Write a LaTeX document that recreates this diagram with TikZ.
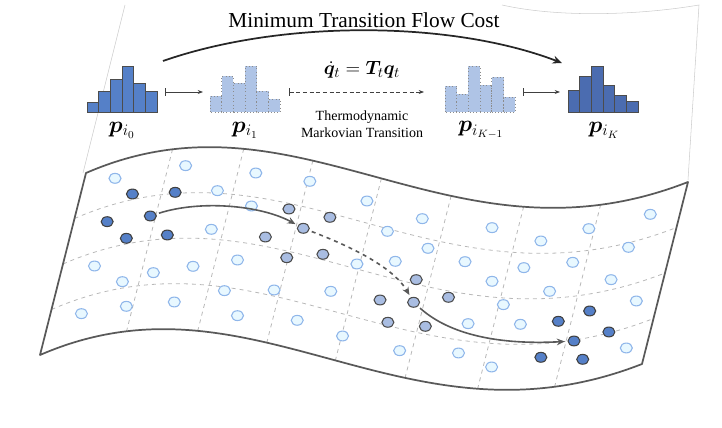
\documentclass[tikz,border=0pt]{standalone}
\usepackage{fontspec}
\setmainfont{Liberation Serif}
\usepackage{amsmath,bm}
\usetikzlibrary{arrows.meta,shapes.geometric}
\definecolor{dblue}{HTML}{5580C8}
\definecolor{ddblue}{HTML}{4B6CB0}
\definecolor{lbar}{HTML}{AFC4E6}
\definecolor{mdot}{HTML}{A9BDE2}
\definecolor{ldotf}{HTML}{E8F8FF}
\definecolor{ldotd}{HTML}{8FB6EA}
\tikzset{
 dbar/.style={fill=dblue,draw=black!70,line width=0.5pt},
 kbar/.style={fill=ddblue,draw=black!70,line width=0.5pt},
 lbarst/.style={fill=lbar,draw=black!45,dotted,line width=0.5pt},
 sheet/.style={draw=black!65,line width=1.3pt},
 gridl/.style={draw=black!28,dashed,line width=0.6pt},
 faint/.style={draw=black!20,line width=0.4pt},
 dotbase/.style={ellipse,minimum width=9pt,minimum height=7.4pt,inner sep=0pt,line width=0.8pt},
 ldot/.style={dotbase,fill=ldotf,draw=ldotd},
 mdotst/.style={dotbase,fill=mdot,draw=black!70},
 ddot/.style={dotbase,fill=dblue,draw=black!75},
 flow/.style={draw=black!65,line width=1.2pt,-{Stealth[length=6pt,width=5pt]},shorten >=2pt,shorten <=2pt},
 maparrow/.style={draw=black!75,line width=0.6pt,{Bar[width=6pt]}-{Stealth[length=4pt]}},
 lab/.style={font=\fontsize{17}{20}\selectfont},
}
\begin{document}
\begin{tikzpicture}[x=0.75pt,y=-0.75pt]
\useasboundingbox (0,0) rectangle (722,428);
% faint background plane
\draw[faint] (125,5) -- (83,173);
\draw[faint] (502,5) .. controls (560,18) and (640,15) .. (699,5) -- (688,180);
% grid
\path (86,173) .. controls (300,80) and (450,275) .. (688,182)
  \foreach \u [count=\k] in {0.14,0.262,0.384,0.506,0.628,0.75,0.872} {coordinate[pos=\u] (g\k)};
\foreach \k in {1,...,7} \draw[gridl] (g\k) -- ++(-46,182);
\foreach \v in {0.25,0.5,0.75}
  \draw[gridl,shift={({-46*\v},{182*\v})}] (86,173) .. controls (300,80) and (450,275) .. (688,182);
% sheet outline
\draw[sheet,line join=round] (86,173) .. controls (300,80) and (450,275) .. (688,182)
  -- (642,364) .. controls (404,457) and (254,262) .. (40,355) -- cycle;
% dots
\begin{scope}[shift={(30,150)},xscale=0.4359,yscale=0.3333]
\foreach \x/\y [count=\i] in {195/85,357/47,518/69,642/94,430/122,508/168,773/153,416/238,900/206,820/244,1060/233,1282/236,1423/193,1172/273,913/295,1373/292,148/348,283/368,374/349,476/330,750/342,838/334,998/335,1133/353,1245/337,212/395,446/422,560/420,690/424,1060/394,1333/389,1192/424,1391/453,118/491,221/469,331/456,476/497,613/511,1086/464,1005/521,1125/523,717/558,848/602,983/609,1059/651,1368/594}
  \node[ldot] (l\i) at (\x,\y) {};
\foreach \x/\y [count=\i] in {235/132,333/127,177/215,276/198,221/265,315/255,1284/483,1212/514,1328/546,1248/573,1172/622,1268/628}
  \node[ddot] (d\i) at (\x,\y) {};
\foreach \x/\y [count=\i] in {594/177,688/202,627/235,540/261,589/323,672/313,886/389,803/450,880/457,960/442,821/517,907/529}
  \node[mdotst] (m\i) at (\x,\y) {};
\end{scope}
\draw[flow] (d4) .. controls (200,200) and (260,205) .. (m3);
\draw[flow,dashed] (m3) .. controls (360,250) and (395,270) .. (m9);
\draw[flow] (m9) .. controls (450,335) and (500,345) .. (d10);
% histograms
\foreach \h [count=\i from 0] in {10,21,33,46,29,21} \draw[dbar] ({87+\i*11.7},112) rectangle ++(11.7,-\h);
\foreach \h [count=\i from 0] in {16,36,29,46,21,13} \draw[lbarst] ({210+\i*11.7},112) rectangle ++(11.7,-\h);
\foreach \h [count=\i from 0] in {26,18,46,27,35,15} \draw[lbarst] ({445+\i*11.7},112) rectangle ++(11.7,-\h);
\foreach \h [count=\i from 0] in {22,36,46,27,17,11} \draw[kbar] ({568+\i*11.7},112) rectangle ++(11.7,-\h);
\node[lab] (p0) at (122,130) {$\bm{p}_{i_0}$};
\node[lab] (p1) at (245,130) {$\bm{p}_{i_1}$};
\node[lab] (pk1) at (481,130) {$\bm{p}_{i_{K-1}}$};
\node[lab] (pk) at (604,130) {$\bm{p}_{i_K}$};
\coordinate (a1s) at (165,92); \coordinate (a1e) at (203,92);
\coordinate (a2s) at (289,92); \coordinate (a2e) at (424,92);
\coordinate (a3s) at (523,92); \coordinate (a3e) at (560,92);
\draw[maparrow] (a1s) -- (a1e);
\draw[maparrow,densely dashed,line width=0.5pt] (a2s) -- (a2e);
\draw[maparrow] (a3s) -- (a3e);
\node[font=\fontsize{15}{18}\selectfont,inner sep=1pt] (eq) at (362,70) {$\dot{\bm{q}}_t=\bm{T}_t\bm{q}_t$};
\node[font=\fontsize{10.5}{13}\selectfont,align=center] (th) at (362,124) {Thermodynamic\\Markovian Transition};
\node[font=\fontsize{16}{19}\selectfont] (title) at (364,20) {Minimum Transition Flow Cost};
\coordinate (ts) at (163,61); \coordinate (te) at (562,63);
\draw[line width=1.3pt,draw=black!85,-{Stealth[length=7pt,width=6pt]}] (ts) .. controls (280,20) and (450,20) .. (te);
\end{tikzpicture}
\end{document}
